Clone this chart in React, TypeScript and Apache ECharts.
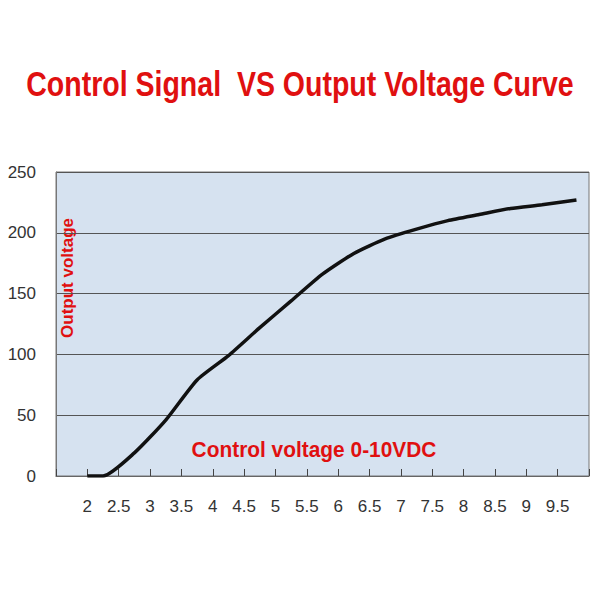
import * as echarts from "echarts";
import { useEffect, useRef } from "react";

// control signal (V) vs output voltage (V)
const controlVoltage = [2, 2.25, 2.75, 3.25, 3.75, 4.25, 4.75, 5.25, 5.75, 6.25, 6.75, 7.25, 7.75, 8.25, 8.75, 9.25, 9.8];
const outputVoltage = [0, 0, 19, 46, 79, 99, 122, 144, 166, 183, 195, 203, 210, 215, 220, 223, 227];
const hiddenXLabels = [1.5, 10];

const RED = "#e01010";
const SANS = '"Liberation Sans", Arial, sans-serif';

const App = () => {
  const chartRef = useRef<HTMLDivElement>(null);

  useEffect(() => {
    const chart = echarts.init(chartRef.current, null, { renderer: "svg" });
    chart.setOption({
      animation: false,
      backgroundColor: "#ffffff",
      grid: {
        left: 56,
        top: 172,
        right: 11,
        bottom: 124,
        show: true,
        backgroundColor: "#d6e2f0",
        borderColor: "#777",
        borderWidth: 1,
      },
      graphic: [
        {
          type: "text",
          x: 300,
          y: 84,
          scaleX: 0.815,
          style: {
            text: "Control Signal  VS Output Voltage Curve",
            fill: RED,
            font: `bold 35px ${SANS}`,
            align: "center",
            verticalAlign: "middle",
          },
        },
        {
          type: "text",
          x: 67,
          y: 278,
          rotation: Math.PI / 2,
          style: {
            text: "Output voltage",
            fill: RED,
            font: `bold 17px ${SANS}`,
            align: "center",
            verticalAlign: "middle",
          },
        },
        {
          type: "text",
          x: 314,
          y: 450,
          scaleX: 0.95,
          style: {
            text: "Control voltage 0-10VDC",
            fill: RED,
            font: `bold 22px ${SANS}`,
            align: "center",
            verticalAlign: "middle",
          },
        },
      ],
      xAxis: {
        type: "value",
        min: 1.5,
        max: 10,
        interval: 0.5,
        axisLine: { show: true, lineStyle: { color: "#666", width: 1.2 } },
        axisTick: { show: true, inside: true, length: 7, lineStyle: { color: "#444" } },
        splitLine: { show: false },
        axisLabel: {
          color: "#333",
          fontSize: 17,
          fontFamily: SANS,
          margin: 22,
          formatter: (v: number) => (hiddenXLabels.includes(v) ? "" : String(v)),
        },
      },
      yAxis: {
        type: "value",
        min: 0,
        max: 250,
        interval: 50,
        axisLine: { show: true, lineStyle: { color: "#777" } },
        axisTick: { show: false },
        splitLine: { show: true, lineStyle: { color: "#555", width: 1.2 } },
        axisLabel: {
          color: "#333",
          fontSize: 17,
          fontFamily: SANS,
          margin: 20,
        },
      },
      series: [
        {
          type: "line",
          data: controlVoltage.map((x, i) => [x, outputVoltage[i]]),
          smooth: 0.2,
          showSymbol: false,
          lineStyle: { color: "#111", width: 3.5 },
        },
      ],
    });
    return () => {
      chart.dispose();
    };
  }, []);

  return (
    <div
      ref={chartRef}
      style={{ position: "fixed", left: 0, top: 0, width: "600px", height: "600px" }}
    ></div>
  );
};

export default App;
